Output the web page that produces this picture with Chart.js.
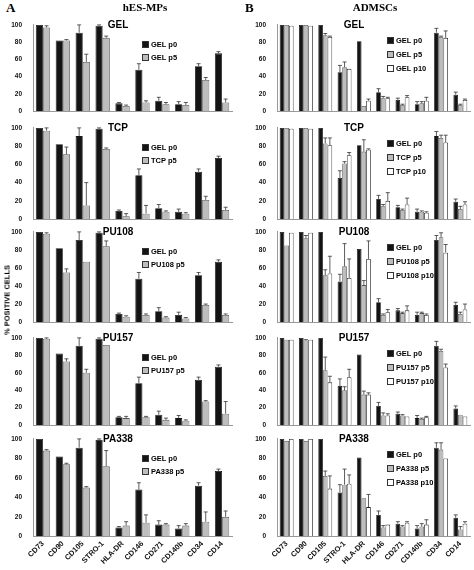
<!DOCTYPE html><html><head><meta charset="utf-8">
<script src="https://cdn.jsdelivr.net/npm/chart.js@4"></script>
<style>
body{margin:0;width:474px;height:570px;background:#fff;position:relative;overflow:hidden;font-family:Arial,"Liberation Sans",sans-serif}
.c{position:absolute}
.t{position:absolute;font-weight:bold;white-space:nowrap}
.lg{position:absolute;font:bold 7.5px Arial,"Liberation Sans",sans-serif;white-space:nowrap}
.sw{display:inline-block;width:5px;height:5px;border:1px solid #333;margin-right:2px;vertical-align:-1px}
</style></head><body>
<script>
const categories=["CD73","CD90","CD105","STRO-1","HLA-DR","CD146","CD271","CD140b","CD34","CD14"];
const yTicks=[0,20,40,60,80,100];
const panelNames=["GEL","TCP","PU108","PU157","PA338"];
// hES-MPs
const hesP0=[100,82,91,99,9,48,12,8,52,67];
const hesP0Err=[0,0,9,1,1,7,4,3,3,2];
const hesGELp5=[97,82,57,85,6,10,8,7,36,10], hesGELp5Err=[2,1,9,2,1,2,2,3,3,4];
const hesTCPp5=[97,71,15,77,3,6,8,6,21,10], hesTCPp5Err=[3,8,25,1,3,9,1,1,4,3];
const hesPU108p5=[98,55,67,84,6,8,5,4,19,8], hesPU108p5Err=[1,4,0,6,1,1,1,1,1,1];
const hesPU157p5=[99,73,60,92,8,9,6,5,27,13], hesPU157p5Err=[1,3,4,0,2,1,2,1,1,14];
const hesPA338p5=[88,74,50,72,11,14,12,11,15,20], hesPA338p5Err=[1,1,1,16,4,8,1,2,10,6];
// ADMSCs
const adP0=[100,100,100,45,81,22,13,8,91,19];
const adP0Err=[0,0,0,8,0,4,2,3,5,3];
const adGELp5=[100,100,88,51,6,15,7,9,86,7], adGELp5Err=[0,0,2,6,0,2,1,2,1,1];
const adGELp10=[99,99,86,49,12,15,16,12,85,13], adGELp10Err=[0,0,1,0,2,1,2,4,8,1];
const adTCPp5=[100,100,83,61,74,14,10,8,89,11], adTCPp5Err=[0,0,6,2,13,2,1,1,3,3];
const adTCPp10=[99,99,81,70,76,20,16,7,84,16], adTCPp10Err=[0,0,8,3,1,9,7,1,8,3];
const adPU108p5=[85,93,52,62,41,8,10,10,94,9], adPU108p5Err=[0,3,6,25,5,1,1,1,5,2];
const adPU108p10=[99,99,54,49,70,11,13,8,77,14], adPU108p10Err=[0,0,19,21,20,3,5,1,9,6];
const adPU157p5=[98,97,63,40,35,11,11,7,85,12], adPU157p5Err=[0,1,15,4,4,3,1,1,2,0];
const adPU157p10=[98,98,49,55,35,11,10,9,66,10], adPU157p10Err=[0,0,7,9,2,2,0,1,4,0];
const adPA338p5=[98,98,62,53,39,9,10,10,89,7], adPA338p5Err=[0,0,5,16,0,2,1,3,7,3];
const adPA338p10=[100,100,49,54,30,12,14,12,80,13], adPA338p10Err=[0,0,13,9,13,0,1,5,0,2];

const hesSeries=[[hesGELp5,hesGELp5Err],[hesTCPp5,hesTCPp5Err],[hesPU108p5,hesPU108p5Err],[hesPU157p5,hesPU157p5Err],[hesPA338p5,hesPA338p5Err]];
const adSeries=[[adGELp5,adGELp5Err,adGELp10,adGELp10Err],[adTCPp5,adTCPp5Err,adTCPp10,adTCPp10Err],[adPU108p5,adPU108p5Err,adPU108p10,adPU108p10Err],[adPU157p5,adPU157p5Err,adPU157p10,adPU157p10Err],[adPA338p5,adPA338p5Err,adPA338p10,adPA338p10Err]];

const top100=[24,127,231,337,438], zero=[112,220,323,426,539];
const FONT="Arial, 'Liberation Sans', sans-serif";

const errPlugin={id:'err',afterDatasetsDraw(ch){const c=ch.ctx;ch.data.datasets.forEach((ds,i)=>{const m=ch.getDatasetMeta(i);c.save();c.strokeStyle='#333';c.lineWidth=0.8;m.data.forEach((b,j)=>{const e=ds.err[j];if(!e)return;const y0=ch.scales.y.getPixelForValue(ds.data[j]);const y1=ch.scales.y.getPixelForValue(ds.data[j]+e);c.beginPath();c.moveTo(b.x,y0);c.lineTo(b.x,y1);c.moveTo(b.x-2,y1);c.lineTo(b.x+2,y1);c.stroke();});c.restore();});}};

function addDiv(cls,x,y,html,style){const d=document.createElement('div');d.className=cls;d.style.left=x+'px';d.style.top=y+'px';d.innerHTML=html;if(style)d.style.cssText+=style;document.body.appendChild(d);return d;}

function panel(col,row,datasets){
  const last=row===4;
  const top=top100[row]-6;
  const h=last?570-top:zero[row]-top100[row]+12;
  const left=col===0?0:244, w=col===0?236:230;
  const wrap=document.createElement('div');wrap.className='c';wrap.style.cssText=`left:${left}px;top:${top}px;width:${w}px;height:${h}px`;
  const cv=document.createElement('canvas');
  wrap.appendChild(cv);document.body.appendChild(wrap);
  new Chart(cv,{type:'bar',data:{labels:categories,datasets},
    options:{responsive:true,maintainAspectRatio:false,animation:false,
      layout:{padding:{top:6,bottom:last?1:6,right:4,left:0}},
      plugins:{legend:{display:false},tooltip:{enabled:false}},
      datasets:{bar:{categoryPercentage:0.72,barPercentage:1,borderWidth:0.8}},
      scales:{
        x:{grid:{display:false,drawTicks:false},border:{color:'#999'},
          ticks:{display:last,maxRotation:45,minRotation:45,padding:3,color:'#111',font:{size:7.5,weight:'bold',family:FONT}}},
        y:{min:0,max:100,afterFit:s=>{s.width=33},grid:{display:false},border:{color:'#999'},
          afterBuildTicks:s=>{s.ticks=yTicks.map(v=>({value:v}));},
          ticks:{padding:3,color:'#111',font:{size:6.5,weight:'bold',family:FONT}}}}},
    plugins:[errPlugin]});
}
const black={backgroundColor:'#141414',borderColor:'#141414'};
const grey={backgroundColor:'#bdbdbd',borderColor:'#555'};
const white={backgroundColor:'#ffffff',borderColor:'#222'};
for(let r=0;r<5;r++){
  panel(0,r,[{data:hesP0,err:hesP0Err,...black},{data:hesSeries[r][0],err:hesSeries[r][1],...grey}]);
  panel(1,r,[{data:adP0,err:adP0Err,...black},{data:adSeries[r][0],err:adSeries[r][1],...grey},{data:adSeries[r][2],err:adSeries[r][3],...white}]);
  const tx=[118,354];
  const ty=top100[r]-5;
  addDiv('t',tx[0],ty,panelNames[r],'font-size:10px;transform:translateX(-50%)');
  addDiv('t',tx[1],ty,panelNames[r],'font-size:10px;transform:translateX(-50%)');
  const sw=(c)=>`<span class="sw" style="background:${c}"></span>`;
  addDiv('lg',142,top100[r]+16,sw('#141414')+'GEL p0');
  addDiv('lg',142,top100[r]+29,sw('#bdbdbd')+panelNames[r]+' p5');
  addDiv('lg',387,top100[r]+12,sw('#141414')+'GEL p0');
  addDiv('lg',387,top100[r]+26,sw('#bdbdbd')+panelNames[r]+' p5');
  addDiv('lg',387,top100[r]+40,sw('#ffffff')+panelNames[r]+' p10');
}
addDiv('t',6,0,'A','font:bold 13px "Liberation Serif",serif');
addDiv('t',245,0,'B','font:bold 13px "Liberation Serif",serif');
addDiv('t',145,1,'hES-MPs','font:bold 11px "Liberation Serif",serif;transform:translateX(-50%)');
addDiv('t',375,1,'ADMSCs','font:bold 11px "Liberation Serif",serif;transform:translateX(-50%)');
addDiv('t',7,300,'% POSITIVE CELLS','font-size:7.5px;transform:translate(-50%,-50%) rotate(-90deg)');
</script></body></html>
